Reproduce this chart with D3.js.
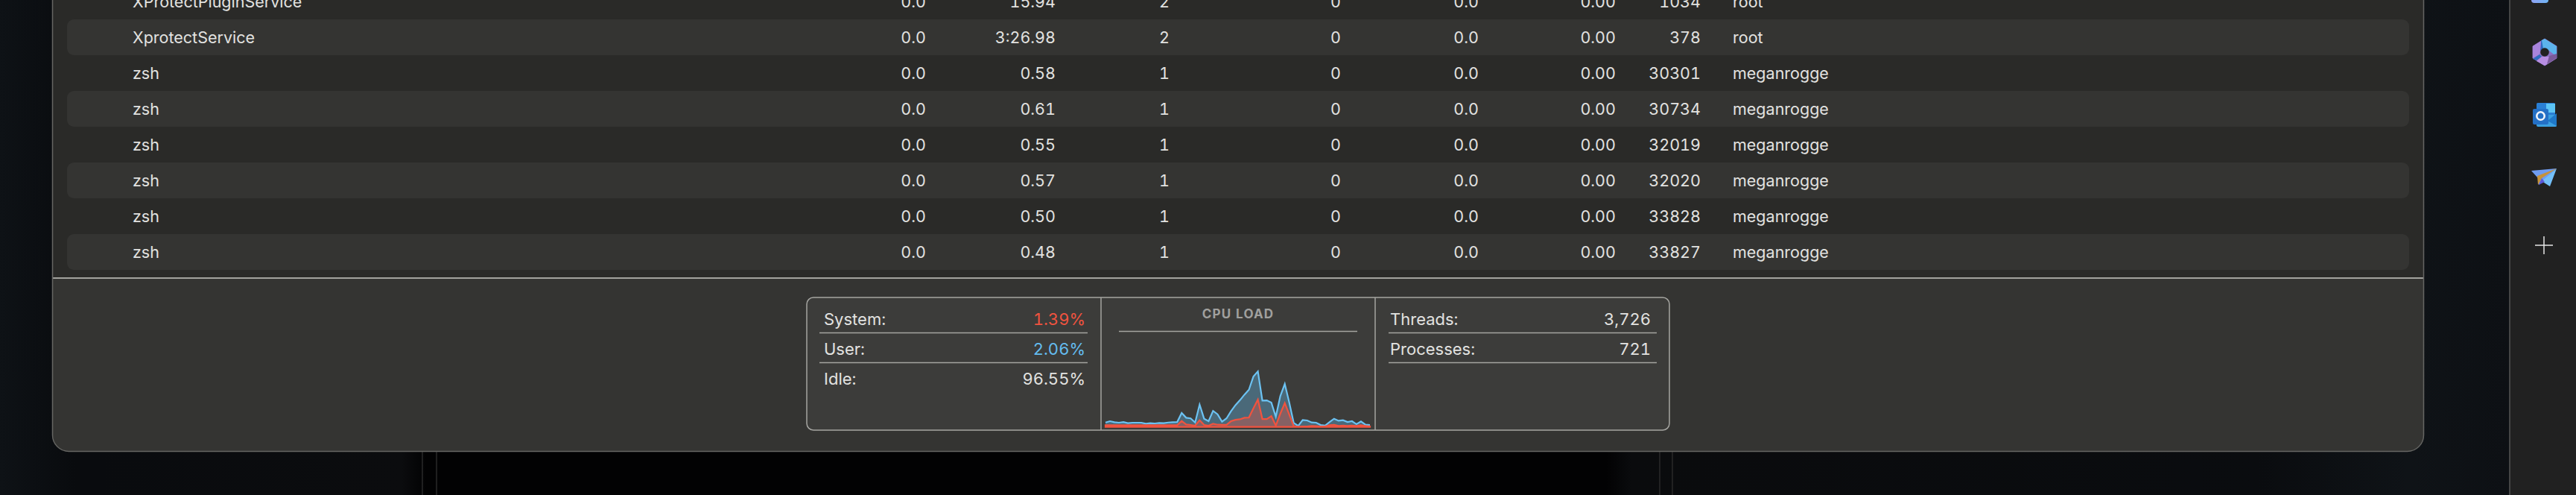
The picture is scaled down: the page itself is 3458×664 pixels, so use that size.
<!DOCTYPE html>
<html>
<head>
<meta charset="utf-8">
<script src="https://cdn.jsdelivr.net/npm/d3@7"></script>
<style>
  html, body { margin: 0; padding: 0; background: #000; overflow: hidden; }
  svg { display: block; }
  text { font-family: Inter, "Noto Sans", sans-serif; font-variant-numeric: tabular-nums; }
</style>
</head>
<body>
<div id="chart"></div>
<script>
// Process table
var processNames = ["XProtectPluginService", "XprotectService", "zsh", "zsh", "zsh", "zsh", "zsh", "zsh"];
var cpuPercent = ["0.0", "0.0", "0.0", "0.0", "0.0", "0.0", "0.0", "0.0"];
var cpuTime = ["15.94", "3:26.98", "0.58", "0.61", "0.55", "0.57", "0.50", "0.48"];
var threadCount = ["2", "2", "1", "1", "1", "1", "1", "1"];
var idleWakeUps = ["0", "0", "0", "0", "0", "0", "0", "0"];
var gpuPercent = ["0.0", "0.0", "0.0", "0.0", "0.0", "0.0", "0.0", "0.0"];
var gpuTime = ["0.00", "0.00", "0.00", "0.00", "0.00", "0.00", "0.00", "0.00"];
var pids = ["1034", "378", "30301", "30734", "32019", "32020", "33828", "33827"];
var users = ["root", "root", "meganrogge", "meganrogge", "meganrogge", "meganrogge", "meganrogge", "meganrogge"];

// Footer summary
var loadLabels = ["System:", "User:", "Idle:"];
var loadValues = ["1.39%", "2.06%", "96.55%"];
var countLabels = ["Threads:", "Processes:"];
var countValues = ["3,726", "721"];

// CPU load history, percent
var systemLoad = [1.8, 1.8, 1.8, 1.8, 1.8, 1.8, 1.8, 1.8, 1.8, 1.8, 1.8, 1.8, 1.8, 1.8, 1.8, 1.8, 1.8,
  6.2, 2.6, 2.1, 1.3, 6.9, 2.1, 1.3, 3.3, 2.3, 2.1, 2.1, 5.9, 7.4, 7.9, 9.5, 9.7, 19.2, 28.2, 8.2, 8.2, 11.3,
  1.3, 13.6, 24.6, 12.8, 0.8, 0.3, 0.5, 0.5, 1.0, 0.8, 0.5, 0.5, 1.8, 2.1, 1.0, 1.5, 1.0, 1.5, 1.0, 1.8, 1.0, 0.5];
var userLoad = [2.8, 4.1, 3.1, 2.6, 3.3, 2.1, 2.6, 2.6, 2.6, 1.5, 2.1, 1.8, 2.3, 2.1, 2.8, 3.1, 3.3,
  8.2, 6.9, 6.7, 3.3, 16.2, 6.4, 4.6, 13.3, 10.8, 3.3, 6.7, 10.3, 15.1, 19.7, 23.8, 28.7, 32.8, 29.0, 19.0, 19.2, 13.8,
  9.2, 18.2, 19.7, 12.3, 3.3, 0.8, 6.7, 6.2, 3.6, 3.6, 1.5, 1.0, 3.3, 6.4, 5.4, 5.4, 4.1, 4.4, 1.8, 3.8, 1.3, 1.5];

var svgWidth = 3458;
var svgHeight = 664;

var svg = d3.select("#chart")
  .append("svg")
  .attr("width", svgWidth)
  .attr("height", svgHeight);

var defs = svg.append("defs");

// Wallpaper behind the window
var wall = defs.append("linearGradient").attr("id", "wall");
[[0, "#0e1216"], [0.03, "#090b0e"], [0.16, "#0b0c0e"], [0.17, "#020203"], [0.64, "#020203"],
 [0.65, "#0a0b0d"], [0.9, "#0a0c0f"], [0.96, "#0f1317"], [1, "#0d1014"]].forEach(function(s) {
  wall.append("stop").attr("offset", s[0]).attr("stop-color", s[1]);
});

svg.append("rect").attr("width", 3369).attr("height", svgHeight).attr("fill", "url(#wall)");
[567, 586, 2228, 2245].forEach(function(x) {
  svg.append("line").attr("x1", x).attr("x2", x).attr("y1", 606).attr("y2", svgHeight)
    .attr("stroke", "#2a2a2a").attr("stroke-width", 1.5);
});

// Dock on the right
svg.append("rect").attr("x", 3369).attr("width", 89).attr("height", svgHeight).attr("fill", "#212121");
svg.append("line").attr("x1", 3369).attr("x2", 3369).attr("y1", 0).attr("y2", svgHeight)
  .attr("stroke", "#555").attr("stroke-width", 1.5);

// Window
defs.append("clipPath").attr("id", "win").append("rect")
  .attr("x", 71).attr("y", -40).attr("width", 3182).attr("height", 645).attr("rx", 22);
var win = svg.append("g").attr("clip-path", "url(#win)");
win.append("rect").attr("x", 71).attr("y", -40).attr("width", 3182).attr("height", 645).attr("fill", "#2a2a28");
win.append("rect").attr("x", 71).attr("y", 373).attr("width", 3182).attr("height", 232).attr("fill", "#343432");

// Rows
var rowScale = d3.scaleBand()
  .domain(d3.range(processNames.length))
  .range([-22, 362]);

win.selectAll(".stripe")
  .data(d3.range(processNames.length).filter(function(i) { return i % 2 == 1; }))
  .enter()
  .append("rect")
  .attr("class", "stripe")
  .attr("x", 90)
  .attr("width", 3144)
  .attr("y", function(i) { return rowScale(i); })
  .attr("height", rowScale.bandwidth())
  .attr("rx", 9)
  .attr("fill", "#343432");

var columns = [
  { values: processNames, x: 178, anchor: "start" },
  { values: cpuPercent, x: 1243, anchor: "end" },
  { values: cpuTime, x: 1417, anchor: "end" },
  { values: threadCount, x: 1570, anchor: "end" },
  { values: idleWakeUps, x: 1800, anchor: "end" },
  { values: gpuPercent, x: 1985, anchor: "end" },
  { values: gpuTime, x: 2169, anchor: "end" },
  { values: pids, x: 2283, anchor: "end" },
  { values: users, x: 2326, anchor: "start" }
];

columns.forEach(function(col) {
  win.append("g").selectAll("text")
    .data(col.values)
    .enter()
    .append("text")
    .attr("x", col.x)
    .attr("y", function(d, i) { return rowScale(i) + 32; })
    .attr("text-anchor", col.anchor)
    .attr("font-size", 21.5)
    .attr("fill", "#e2e2e0")
    .text(function(d) { return d; });
});

// Footer separator
win.append("rect").attr("x", 71).attr("y", 372).attr("width", 3182).attr("height", 2).attr("fill", "#a2a29e");

// Window outline
svg.append("rect")
  .attr("x", 70.5).attr("y", -40).attr("width", 3183).attr("height", 645.5).attr("rx", 22)
  .attr("fill", "none").attr("stroke", "#666663").attr("stroke-width", 1.5);

// Summary panel
var panelLine = "#a5a5a1";
svg.append("rect")
  .attr("x", 1083).attr("y", 399).attr("width", 1158).attr("height", 178).attr("rx", 9)
  .attr("fill", "#3c3c3a").attr("stroke", panelLine).attr("stroke-width", 1.5);
[1478, 1846].forEach(function(x) {
  svg.append("line").attr("x1", x).attr("x2", x).attr("y1", 399).attr("y2", 577)
    .attr("stroke", panelLine).attr("stroke-width", 1.5);
});

var loadColors = ["#f0533f", "#64bcf0", "#e2e2e0"];

function statBlock(labels, values, colors, labelX, valueX, lineX1, lineX2, baseY) {
  var rows = svg.append("g");
  labels.forEach(function(label, i) {
    var y = baseY + i * 40;
    rows.append("text").attr("x", labelX).attr("y", y).attr("font-size", 22)
      .attr("fill", "#e2e2e0").text(label);
    rows.append("text").attr("x", valueX).attr("y", y).attr("font-size", 22)
      .attr("text-anchor", "end").attr("fill", colors ? colors[i] : "#e2e2e0").text(values[i]);
    if (i < 2) {
      rows.append("line").attr("x1", lineX1).attr("x2", lineX2).attr("y1", y + 10.5).attr("y2", y + 10.5)
        .attr("stroke", panelLine).attr("stroke-width", 1.5);
    }
  });
}

statBlock(loadLabels, loadValues, loadColors, 1106, 1457, 1100, 1460, 436);
statBlock(countLabels, countValues, null, 1866, 2216, 1864, 2224, 436);

// CPU load chart
svg.append("text")
  .attr("x", 1662).attr("y", 427)
  .attr("text-anchor", "middle")
  .attr("font-size", 17).attr("font-weight", 700)
  .attr("letter-spacing", 1.2)
  .attr("fill", "#a0a09e")
  .text("CPU LOAD");
svg.append("line").attr("x1", 1502).attr("x2", 1822).attr("y1", 444.5).attr("y2", 444.5)
  .attr("stroke", panelLine).attr("stroke-width", 1.5);

var loadData = systemLoad.map(function(d, i) {
  return { index: i, system: d, user: userLoad[i] };
});

var stacked = d3.stack().keys(["system", "user"])(loadData);

var xScale = d3.scaleLinear().domain([0, loadData.length - 1]).range([1484, 1839]);
var yScale = d3.scaleLinear().domain([0, 100]).range([572.7, 442.7]);

var area = d3.area()
  .x(function(d) { return xScale(d.data.index); })
  .y0(yScale(0))
  .y1(function(d) { return yScale(d[1]); });

var topLine = d3.line()
  .x(function(d) { return xScale(d.data.index); })
  .y(function(d) { return yScale(d[1]); });

var chart = svg.append("g");
chart.append("path").attr("d", area(stacked[1])).attr("fill", "#64bcf0").attr("fill-opacity", 0.35);
chart.append("path").attr("d", area(stacked[0])).attr("fill", "#f0533f").attr("fill-opacity", 0.36);
chart.append("path").attr("d", topLine(stacked[1])).attr("fill", "none")
  .attr("stroke", "#6cc2f2").attr("stroke-width", 2.2);
chart.append("path").attr("d", area(stacked[0])).attr("fill", "none")
  .attr("stroke", "#f0533f").attr("stroke-width", 2.2);

// Dock icons
var dock = svg.append("g");

var topGrad = defs.append("linearGradient").attr("id", "topIcon");
topGrad.append("stop").attr("offset", 0).attr("stop-color", "#8fa2f2");
topGrad.append("stop").attr("offset", 1).attr("stop-color", "#6fb4f4");
dock.append("rect").attr("x", 3398).attr("y", -12).attr("width", 23).attr("height", 16).attr("rx", 4)
  .attr("fill", "url(#topIcon)");

// Microsoft 365
var m365 = dock.append("g").attr("transform", "translate(3416,70)");
m365.append("path").attr("d", "M0,-18 L16,-8 L16,8 L0,18 L-16,8 L-16,-8 Z").attr("fill", "#8a6fc0")
  .attr("stroke", "#8a6fc0").attr("stroke-width", 1).attr("stroke-linejoin", "round");
m365.append("path").attr("d", "M-4,-16 L0,-18 L16,-8 L16,6 L6,-2 L-4,-6 Z").attr("fill", "#5cb4ec");
m365.append("path").attr("d", "M-5,-15 L-4,-16 L-2,-5 L-6,-2 Z").attr("fill", "#2f6cc0");
m365.append("path").attr("d", "M-16,-8 L-5,-15 L-6,-2 L-7,3 L-16,8 Z").attr("fill", "#a884dc");
m365.append("path").attr("d", "M-16,9 L-7,3 L-4,6 L-11,11 Z").attr("fill", "#2f6cc0");
m365.append("path").attr("d", "M-11,12 L-4,6 L6,6 L16,8 L0,18 Z").attr("fill", "#b88ee2");
m365.append("path").attr("d", "M6,5 L16,2 L16,8 L3,16 Z").attr("fill", "#7a5a9a");
m365.append("circle").attr("cx", 0).attr("cy", 0).attr("r", 5.8).attr("fill", "#212121");

// Outlook
var outlook = dock.append("g").attr("transform", "translate(3416,154)");
outlook.append("rect").attr("x", -11).attr("y", -16).attr("width", 25).attr("height", 24).attr("rx", 1.5).attr("fill", "#2a7fd4");
outlook.append("rect").attr("x", 2).attr("y", -15).attr("width", 12).attr("height", 12).attr("fill", "#5cc4f4");
outlook.append("path").attr("d", "M-11,0 L16,0 L16,15 Q16,16 14,16 L-9,16 Q-11,16 -11,14 Z").attr("fill", "#3a9fe0");
outlook.append("path").attr("d", "M16,-2 L16,15 L4,8 Z").attr("fill", "#1f78c8");
outlook.append("rect").attr("x", -16).attr("y", -8).attr("width", 21).attr("height", 21).attr("rx", 2).attr("fill", "#2470c6");
outlook.append("circle").attr("cx", -5.5).attr("cy", 1.5).attr("r", 5.2).attr("fill", "none").attr("stroke", "#f2f6fb").attr("stroke-width", 2.6);

// Send
var send = dock.append("g").attr("transform", "translate(3398,226)");
send.append("path").attr("d", "M0,3 L34,0 L10,22 L9,13 Z").attr("fill", "#6f9cf0");
send.append("path").attr("d", "M34,0 L25,24 L14,17 Z").attr("fill", "#74c0f8");
send.append("path").attr("d", "M34,0 L8,10 L9,22 L14,13 Z").attr("fill", "#c6923a");
send.append("path").attr("d", "M10,22 L14,13 L18,18 Z").attr("fill", "#5a58d8");

// Plus
dock.append("line").attr("x1", 3403).attr("x2", 3427).attr("y1", 329).attr("y2", 329).attr("stroke", "#e6e6e6").attr("stroke-width", 1.5);
dock.append("line").attr("x1", 3415).attr("x2", 3415).attr("y1", 317).attr("y2", 341).attr("stroke", "#e6e6e6").attr("stroke-width", 1.5);
</script>
</body>
</html>
